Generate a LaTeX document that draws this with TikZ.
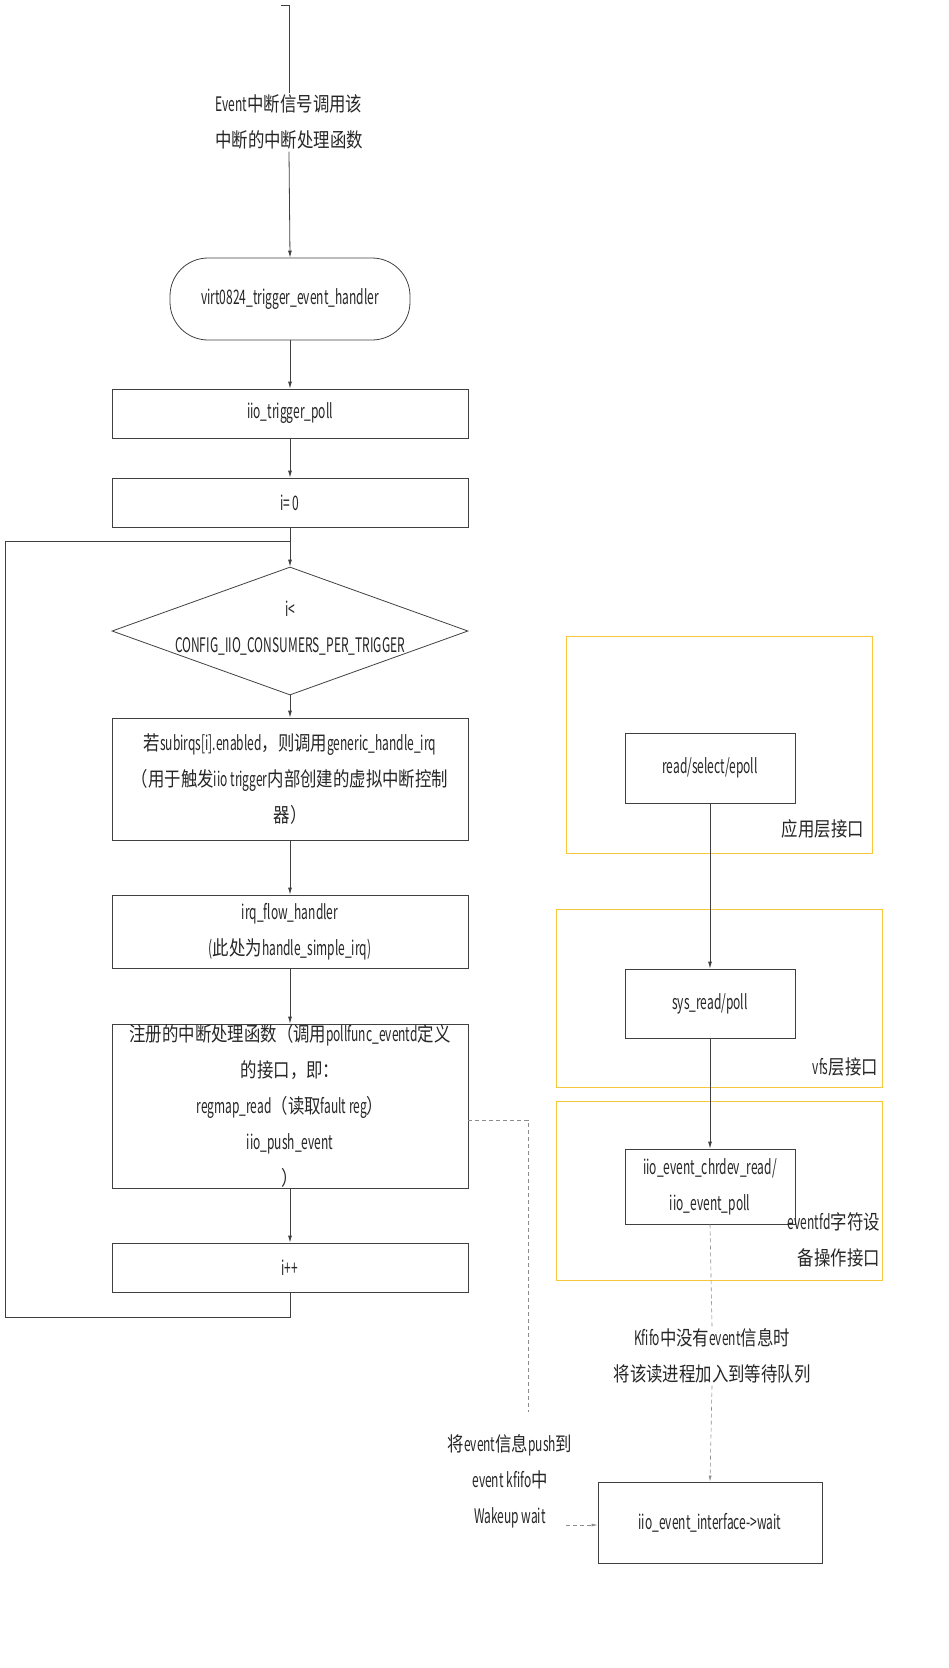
\documentclass[tikz,border=0pt]{standalone}
\usepackage{fontspec}
\setmainfont{Noto Sans CJK SC}[FakeStretch=0.6]
\newfontfamily\cjkf{Noto Sans CJK SC}[FakeStretch=0.82]
\newfontfamily\latf{Noto Sans CJK SC}[FakeStretch=0.6]
\newcount\cc
\cc="4E00 \loop \XeTeXcharclass\cc=1 \advance\cc by 1 \ifnum\cc<"A000 \repeat
\cc="3000 \loop \XeTeXcharclass\cc=1 \advance\cc by 1 \ifnum\cc<"3040 \repeat
\cc="FF00 \loop \XeTeXcharclass\cc=1 \advance\cc by 1 \ifnum\cc<"FFF0 \repeat
\XeTeXinterchartoks 0 1 = {\cjkf}
\XeTeXinterchartoks 4095 1 = {\cjkf}
\XeTeXinterchartoks 1 0 = {\latf}
\usetikzlibrary{shapes.geometric,arrows.meta}
\definecolor{gold}{RGB}{248,200,60}
\begin{document}
\XeTeXinterchartokenstate=1
\begin{tikzpicture}[x=1pt,y=-1pt,
  every node/.style={font=\fontsize{20}{36}\selectfont, text=black!85},
  box/.style={draw=black!75, line width=0.8pt, align=center, inner sep=0pt},
  ybox/.style={draw=gold, line width=0.9pt},
  ln/.style={draw=black!75, line width=0.8pt},
  ar/.style={ln, -{Latex[length=7pt,width=4pt]}},
  dsh/.style={draw=black!45, line width=0.6pt, dash pattern=on 4pt off 3pt},
  lbl/.style={align=center, inner sep=2pt}]
\useasboundingbox (0,0) rectangle (949,1668);
% left chain
\coordinate (s0) at (281,5);
\coordinate (s1) at (289,5);
\node[lbl, fill=white] (t0) at (289,122) {Event中断信号调用该\\中断的中断处理函数};
\node[box, rounded corners=38pt, minimum width=240pt, minimum height=82pt] (h) at (290,299) {virt0824\_trigger\_event\_handler};
\node[box, minimum width=356pt, minimum height=49pt] (p) at (290,413.5) {iio\_trigger\_poll};
\node[box, minimum width=356pt, minimum height=49pt] (z) at (290,502.5) {i= 0};
\node[draw=black!75, line width=0.8pt, diamond, aspect=2.78, minimum width=356pt, minimum height=128pt, inner sep=0pt] (d) at (290,631) {};
\node[lbl] at (290,628) {i<\\CONFIG\_IIO\_CONSUMERS\_PER\_TRIGGER};
\node[box, minimum width=356pt, minimum height=122pt] (e) at (290,779) {若subirqs[i].enabled，则调用generic\_handle\_irq\\（用于触发iio trigger内部创建的虚拟中断控制\\器）};
\node[box, minimum width=356pt, minimum height=73pt] (f) at (290,931.5) {irq\_flow\_handler\\(此处为handle\_simple\_irq)};
\node[box, minimum width=356pt, minimum height=164pt] (r) at (290,1106) {注册的中断处理函数（调用pollfunc\_eventd定义\\的接口，即：\\regmap\_read（读取fault reg）\\iio\_push\_event\\）};
\node[box, minimum width=356pt, minimum height=49pt] (ip) at (290,1267.5) {i++};
\coordinate (lt) at (290,541);
\coordinate (lb) at (290,1317);
\coordinate (ll) at (5,1317);
\coordinate (lu) at (5,541);
\draw[ln] (s0) -- (s1) -- (t0.north);
\draw[ar] (t0.south) -- (h.north);
\draw[ar] (h) -- (p);
\draw[ar] (p) -- (z);
\draw[ar] (z) -- (d.north);
\draw[ar] (d.south) -- (e);
\draw[ar] (e) -- (f);
\draw[ar] (f) -- (r);
\draw[ar] (r) -- (ip);
\draw[ln] (ip.south) -- (lb) -- (ll) -- (lu) -- (lt);
% right side
\draw[ybox] (566,636) rectangle (872,853);
\draw[ybox] (556,909) rectangle (882,1087);
\draw[ybox] (556,1101) rectangle (882,1280);
\node[box, minimum width=170pt, minimum height=70pt] (a1) at (710,768) {read/select/epoll};
\node[box, minimum width=170pt, minimum height=69pt] (a2) at (710,1003.5) {sys\_read/poll};
\node[box, minimum width=170pt, minimum height=75pt] (a3) at (710,1186.5) {iio\_event\_chrdev\_read/\\iio\_event\_poll};
\node[box, minimum width=224pt, minimum height=81pt] (w) at (710,1522.5) {iio\_event\_interface->wait};
\node[lbl, anchor=east] at (866,829) {应用层接口};
\node[lbl, anchor=east] at (880,1067) {vfs层接口};
\node[lbl, anchor=east, align=right] at (882,1240) {eventfd字符设\\备操作接口};
\draw[ar] (a1) -- (a2);
\draw[ar] (a2) -- (a3);
\node[lbl, fill=white] (k) at (712,1356) {Kfifo中没有event信息时\\将该读进程加入到等待队列};
\draw[dsh] (a3.south) -- (k.north);
\draw[dsh, -{Latex[length=6pt,width=3pt]}] (k.south) -- (w.north);
\coordinate (c1) at (528,1120);
\coordinate (c2) at (528,1412);
\node[lbl] (pm) at (510,1481) {将event信息push到\\event kfifo中\\Wakeup wait};
\coordinate (pa) at (566,1525);
\draw[dsh] (r.east |- c1) -- (c1) -- (c2);
\draw[dsh, -{Latex[length=6pt,width=3pt]}] (pa) -- (w.west |- pa);
\end{tikzpicture}
\end{document}
